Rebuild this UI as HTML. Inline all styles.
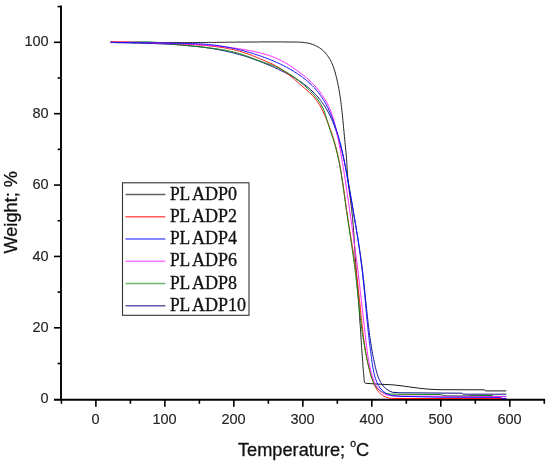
<!DOCTYPE html>
<html><head><meta charset="utf-8"><style>
html,body{margin:0;padding:0;background:#fff;}
svg{display:block;}
</style></head><body>
<svg width="550" height="464" viewBox="0 0 550 464">
<line x1="61" y1="5.4" x2="61" y2="400.6" stroke="#000" stroke-width="1.9"/>
<line x1="54" y1="399.7" x2="545.1" y2="399.7" stroke="#000" stroke-width="1.9"/>
<line x1="57.6" y1="363.51" x2="61" y2="363.51" stroke="#000" stroke-width="1.6"/>
<line x1="54" y1="327.82" x2="61" y2="327.82" stroke="#000" stroke-width="1.6"/>
<line x1="57.6" y1="292.13" x2="61" y2="292.13" stroke="#000" stroke-width="1.6"/>
<line x1="54" y1="256.44" x2="61" y2="256.44" stroke="#000" stroke-width="1.6"/>
<line x1="57.6" y1="220.75" x2="61" y2="220.75" stroke="#000" stroke-width="1.6"/>
<line x1="54" y1="185.06" x2="61" y2="185.06" stroke="#000" stroke-width="1.6"/>
<line x1="57.6" y1="149.37" x2="61" y2="149.37" stroke="#000" stroke-width="1.6"/>
<line x1="54" y1="113.68" x2="61" y2="113.68" stroke="#000" stroke-width="1.6"/>
<line x1="57.6" y1="77.99" x2="61" y2="77.99" stroke="#000" stroke-width="1.6"/>
<line x1="54" y1="42.30" x2="61" y2="42.30" stroke="#000" stroke-width="1.6"/>
<line x1="57.6" y1="6.61" x2="61" y2="6.61" stroke="#000" stroke-width="1.6"/>
<line x1="61.41" y1="399.7" x2="61.41" y2="403.8" stroke="#000" stroke-width="1.6"/>
<line x1="95.90" y1="399.7" x2="95.90" y2="406.8" stroke="#000" stroke-width="1.6"/>
<line x1="130.39" y1="399.7" x2="130.39" y2="403.8" stroke="#000" stroke-width="1.6"/>
<line x1="164.88" y1="399.7" x2="164.88" y2="406.8" stroke="#000" stroke-width="1.6"/>
<line x1="199.37" y1="399.7" x2="199.37" y2="403.8" stroke="#000" stroke-width="1.6"/>
<line x1="233.86" y1="399.7" x2="233.86" y2="406.8" stroke="#000" stroke-width="1.6"/>
<line x1="268.35" y1="399.7" x2="268.35" y2="403.8" stroke="#000" stroke-width="1.6"/>
<line x1="302.84" y1="399.7" x2="302.84" y2="406.8" stroke="#000" stroke-width="1.6"/>
<line x1="337.33" y1="399.7" x2="337.33" y2="403.8" stroke="#000" stroke-width="1.6"/>
<line x1="371.82" y1="399.7" x2="371.82" y2="406.8" stroke="#000" stroke-width="1.6"/>
<line x1="406.31" y1="399.7" x2="406.31" y2="403.8" stroke="#000" stroke-width="1.6"/>
<line x1="440.80" y1="399.7" x2="440.80" y2="406.8" stroke="#000" stroke-width="1.6"/>
<line x1="475.29" y1="399.7" x2="475.29" y2="403.8" stroke="#000" stroke-width="1.6"/>
<line x1="509.78" y1="399.7" x2="509.78" y2="406.8" stroke="#000" stroke-width="1.6"/>
<line x1="544.27" y1="399.7" x2="544.27" y2="403.8" stroke="#000" stroke-width="1.6"/>
<text x="48.6" y="403.40" text-anchor="end" font-family="&quot;Liberation Sans&quot;, Arial, sans-serif" font-size="14.5" fill="#222" stroke="#222" stroke-width="0.12">0</text>
<text x="48.6" y="332.02" text-anchor="end" font-family="&quot;Liberation Sans&quot;, Arial, sans-serif" font-size="14.5" fill="#222" stroke="#222" stroke-width="0.12">20</text>
<text x="48.6" y="260.64" text-anchor="end" font-family="&quot;Liberation Sans&quot;, Arial, sans-serif" font-size="14.5" fill="#222" stroke="#222" stroke-width="0.12">40</text>
<text x="48.6" y="189.26" text-anchor="end" font-family="&quot;Liberation Sans&quot;, Arial, sans-serif" font-size="14.5" fill="#222" stroke="#222" stroke-width="0.12">60</text>
<text x="48.6" y="117.88" text-anchor="end" font-family="&quot;Liberation Sans&quot;, Arial, sans-serif" font-size="14.5" fill="#222" stroke="#222" stroke-width="0.12">80</text>
<text x="48.6" y="45.80" text-anchor="end" font-family="&quot;Liberation Sans&quot;, Arial, sans-serif" font-size="14.5" fill="#222" stroke="#222" stroke-width="0.12">100</text>
<text x="95.60" y="423.55" text-anchor="middle" font-family="&quot;Liberation Sans&quot;, Arial, sans-serif" font-size="14.5" fill="#222" stroke="#222" stroke-width="0.12">0</text>
<text x="164.58" y="423.55" text-anchor="middle" font-family="&quot;Liberation Sans&quot;, Arial, sans-serif" font-size="14.5" fill="#222" stroke="#222" stroke-width="0.12">100</text>
<text x="233.56" y="423.55" text-anchor="middle" font-family="&quot;Liberation Sans&quot;, Arial, sans-serif" font-size="14.5" fill="#222" stroke="#222" stroke-width="0.12">200</text>
<text x="302.54" y="423.55" text-anchor="middle" font-family="&quot;Liberation Sans&quot;, Arial, sans-serif" font-size="14.5" fill="#222" stroke="#222" stroke-width="0.12">300</text>
<text x="371.52" y="423.55" text-anchor="middle" font-family="&quot;Liberation Sans&quot;, Arial, sans-serif" font-size="14.5" fill="#222" stroke="#222" stroke-width="0.12">400</text>
<text x="440.50" y="423.55" text-anchor="middle" font-family="&quot;Liberation Sans&quot;, Arial, sans-serif" font-size="14.5" fill="#222" stroke="#222" stroke-width="0.12">500</text>
<text x="509.48" y="423.55" text-anchor="middle" font-family="&quot;Liberation Sans&quot;, Arial, sans-serif" font-size="14.5" fill="#222" stroke="#222" stroke-width="0.12">600</text>
<text x="238" y="455.5" font-family="&quot;Liberation Sans&quot;, Arial, sans-serif" font-size="18.2" fill="#111" stroke="#111" stroke-width="0.3">Temperature; <tspan font-size="10.5" dy="-8.6">o</tspan><tspan dy="8.6">C</tspan></text>
<text transform="translate(17,253.6) rotate(-90)" font-family="&quot;Liberation Sans&quot;, Arial, sans-serif" font-size="18.2" fill="#111" stroke="#111" stroke-width="0.3">Weight; %</text>
<path d="M110.6,42.4 112.2,42.4 113.8,42.4 115.4,42.4 117.0,42.4 118.6,42.4 120.2,42.4 121.8,42.4 123.4,42.4 125.0,42.4 126.6,42.4 128.2,42.4 129.8,42.4 131.5,42.4 133.1,42.4 134.7,42.4 136.3,42.4 137.9,42.4 139.5,42.5 141.1,42.5 142.7,42.5 144.3,42.5 145.9,42.5 147.5,42.5 149.1,42.5 150.7,42.5 152.3,42.5 153.9,42.5 155.5,42.5 157.1,42.5 158.7,42.6 160.3,42.6 161.9,42.6 163.5,42.6 165.1,42.6 166.7,42.6 168.3,42.6 169.9,42.6 171.5,42.6 173.1,42.6 174.7,42.6 176.3,42.6 177.9,42.6 179.5,42.6 181.1,42.6 182.7,42.6 184.3,42.6 185.9,42.6 187.6,42.6 189.2,42.6 190.8,42.6 192.4,42.6 194.0,42.6 195.6,42.5 197.2,42.5 198.8,42.5 200.4,42.5 202.0,42.5 203.6,42.5 205.2,42.5 206.8,42.5 208.4,42.4 210.0,42.4 211.6,42.4 213.2,42.4 214.8,42.4 216.4,42.4 218.0,42.3 219.6,42.3 221.2,42.3 222.8,42.3 224.4,42.3 226.0,42.2 227.6,42.2 229.3,42.2 230.9,42.2 232.5,42.2 234.1,42.2 235.7,42.1 237.3,42.1 238.9,42.1 240.5,42.1 242.1,42.1 243.7,42.1 245.3,42.0 246.9,42.0 248.5,42.0 250.1,42.0 251.7,42.0 253.3,42.0 254.9,42.0 256.5,42.0 258.1,42.0 259.7,41.9 261.3,41.9 262.9,41.9 264.5,41.9 266.1,41.9 267.7,41.9 269.3,41.9 270.9,41.9 272.5,41.9 274.1,41.9 275.7,41.9 277.3,41.9 278.9,41.9 280.5,41.9 282.1,41.9 283.7,41.9 285.3,42.0 286.9,42.0 288.5,42.0 290.2,42.0 291.8,42.0 293.4,42.0 295.0,42.0 296.6,42.0 298.2,42.1 299.9,42.2 301.5,42.2 303.1,42.4 304.7,42.6 306.2,42.8 307.8,43.1 309.3,43.4 310.9,43.8 312.4,44.3 313.9,44.9 315.3,45.5 316.7,46.2 318.1,47.0 319.5,47.8 320.8,48.7 322.0,49.7 323.2,50.7 324.3,51.8 325.4,53.0 326.4,54.2 327.4,55.5 328.3,56.8 329.2,58.1 330.0,59.5 330.8,60.9 331.5,62.4 332.2,63.9 332.8,65.3 333.4,66.8 333.9,68.4 334.4,69.9 334.9,71.4 335.3,73.0 335.7,74.5 336.1,76.1 336.5,77.7 336.9,79.2 337.2,80.8 337.6,82.4 337.9,83.9 338.2,85.5 338.5,87.1 338.8,88.6 339.1,90.2 339.4,91.8 339.6,93.4 339.9,95.0 340.1,96.5 340.4,98.1 340.6,99.7 340.8,101.3 341.0,102.9 341.2,104.5 341.4,106.1 341.6,107.6 341.8,109.2 341.9,110.8 342.1,112.4 342.3,114.0 342.4,115.6 342.6,117.2 342.8,118.8 342.9,120.4 343.1,122.0 343.2,123.6 343.4,125.2 343.5,126.8 343.7,128.4 343.8,130.0 344.0,131.6 344.1,133.2 344.3,134.8 344.4,136.4 344.6,138.0 344.7,139.6 344.9,141.2 345.0,142.8 345.2,144.3 345.3,145.9 345.5,147.5 345.7,149.1 345.8,150.7 346.0,152.3 346.1,153.9 346.3,155.5 346.4,157.1 346.5,158.7 346.6,160.3 346.7,161.9 346.8,163.5 346.9,165.1 347.0,166.7 347.1,168.3 347.2,169.9 347.3,171.5 347.4,173.1 347.5,174.7 347.6,176.3 347.8,177.9 347.9,179.5 348.1,181.1 348.3,182.7 348.4,184.3 348.6,185.9 348.8,187.5 349.0,189.1 349.2,190.6 349.4,192.2 349.6,193.8 349.8,195.4 350.1,197.0 350.3,198.6 350.5,200.2 350.7,201.8 350.9,203.4 351.1,205.0 351.3,206.5 351.5,208.1 351.7,209.7 351.9,211.3 352.0,212.9 352.2,214.5 352.4,216.1 352.5,217.7 352.7,219.3 352.8,220.9 352.9,222.5 353.1,224.1 353.2,225.7 353.3,227.3 353.4,228.9 353.5,230.5 353.7,232.1 353.8,233.7 353.9,235.3 354.0,236.9 354.1,238.5 354.2,240.1 354.3,241.7 354.4,243.3 354.5,244.9 354.6,246.5 354.7,248.1 354.8,249.7 354.9,251.3 355.0,252.9 355.1,254.5 355.2,256.1 355.3,257.7 355.5,259.3 355.6,260.9 355.7,262.5 355.8,264.1 355.9,265.7 356.0,267.3 356.1,268.9 356.3,270.5 356.4,272.1 356.5,273.7 356.6,275.3 356.7,276.9 356.8,278.5 357.0,280.1 357.1,281.7 357.2,283.3 357.3,284.9 357.4,286.5 357.6,288.1 357.7,289.7 357.8,291.3 357.9,292.9 358.0,294.5 358.1,296.1 358.3,297.6 358.4,299.2 358.5,300.8 358.6,302.4 358.7,304.0 358.8,305.6 359.0,307.2 359.1,308.8 359.2,310.4 359.3,312.0 359.4,313.6 359.5,315.2 359.6,316.8 359.7,318.4 359.8,320.0 359.9,321.6 360.0,323.2 360.2,324.8 360.3,326.4 360.4,328.0 360.5,329.6 360.6,331.2 360.7,332.8 360.8,334.4 360.9,336.0 361.0,337.6 361.1,339.2 361.2,340.8 361.3,342.4 361.4,344.0 361.5,345.6 361.6,347.2 361.7,348.8 361.8,350.4 362.0,352.0 362.1,353.6 362.2,355.2 362.3,356.8 362.4,358.4 362.5,360.0 362.7,361.6 362.8,363.2 362.9,364.8 363.0,366.4 363.1,368.0 363.3,369.6 363.4,371.2 363.5,372.8 363.7,374.4 363.8,376.0 364.0,377.6 364.1,379.2 364.2,380.8 364.4,382.4 365.6,383.3 370.0,383.6 380.0,384.2 392.0,384.8 400.0,385.6 410.0,387.0 420.0,388.3 430.0,389.3 440.0,389.7 484.5,389.8 485.5,390.9 506.3,390.9" fill="none" stroke="#1e1e1e" stroke-width="1.0" stroke-linejoin="round"/>
<path d="M110.6,42.4 112.2,42.4 113.8,42.5 115.4,42.5 117.0,42.6 118.6,42.6 120.2,42.7 121.8,42.7 123.4,42.8 125.0,42.8 126.6,42.9 128.2,42.9 129.8,42.9 131.4,43.0 133.0,43.0 134.6,43.1 136.2,43.1 137.8,43.1 139.4,43.2 141.0,43.2 142.6,43.3 144.2,43.3 145.9,43.3 147.5,43.4 149.1,43.4 150.7,43.5 152.3,43.5 153.9,43.6 155.5,43.7 157.1,43.7 158.7,43.8 160.3,43.8 161.9,43.9 163.5,44.0 165.2,44.1 166.8,44.1 168.4,44.2 170.0,44.3 171.6,44.4 173.2,44.5 174.8,44.6 176.4,44.7 178.0,44.8 179.6,44.9 181.2,45.0 182.8,45.2 184.4,45.3 186.0,45.4 187.6,45.6 189.2,45.7 190.8,45.9 192.4,46.0 194.0,46.2 195.6,46.4 197.2,46.5 198.8,46.7 200.4,46.9 201.9,47.1 203.5,47.3 205.1,47.5 206.7,47.8 208.3,48.0 209.9,48.2 211.4,48.5 213.0,48.7 214.6,49.0 216.2,49.3 217.7,49.6 219.3,49.8 220.9,50.2 222.4,50.5 224.0,50.8 225.6,51.1 227.1,51.5 228.7,51.8 230.3,52.2 231.8,52.5 233.4,52.9 234.9,53.3 236.5,53.7 238.0,54.1 239.5,54.6 241.1,55.0 242.6,55.5 244.2,55.9 245.7,56.4 247.2,56.9 248.7,57.4 250.3,57.9 251.8,58.4 253.3,59.0 254.8,59.5 256.3,60.1 257.8,60.6 259.4,61.2 260.9,61.8 262.4,62.4 263.8,63.0 265.3,63.6 266.8,64.2 268.3,64.8 269.8,65.5 271.3,66.1 272.7,66.8 274.2,67.4 275.6,68.1 277.1,68.7 278.6,69.4 280.0,70.1 281.4,70.8 282.9,71.5 284.3,72.2 285.7,72.9 287.1,73.6 288.5,74.4 289.9,75.1 291.3,75.9 292.7,76.7 294.1,77.5 295.4,78.3 296.8,79.1 298.1,80.0 299.4,80.9 300.7,81.8 302.0,82.7 303.3,83.6 304.6,84.6 305.9,85.6 307.1,86.6 308.4,87.7 309.6,88.7 310.8,89.8 312.0,90.9 313.1,92.1 314.3,93.2 315.4,94.4 316.5,95.6 317.6,96.8 318.6,98.0 319.7,99.2 320.7,100.5 321.6,101.8 322.6,103.1 323.5,104.4 324.4,105.7 325.3,107.1 326.1,108.4 326.9,109.8 327.7,111.2 328.5,112.6 329.2,114.0 329.9,115.4 330.6,116.9 331.2,118.3 331.9,119.8 332.5,121.3 333.1,122.7 333.7,124.2 334.3,125.7 334.8,127.2 335.3,128.7 335.9,130.2 336.4,131.7 336.9,133.3 337.3,134.8 337.8,136.3 338.3,137.9 338.7,139.4 339.2,140.9 339.6,142.5 340.0,144.0 340.4,145.6 340.8,147.1 341.2,148.7 341.6,150.2 342.0,151.8 342.4,153.3 342.8,154.9 343.1,156.4 343.5,158.0 343.8,159.6 344.2,161.1 344.5,162.7 344.8,164.3 345.2,165.8 345.5,167.4 345.8,169.0 346.1,170.6 346.4,172.1 346.7,173.7 347.0,175.3 347.3,176.9 347.6,178.5 347.9,180.0 348.2,181.6 348.5,183.2 348.8,184.8 349.1,186.4 349.3,187.9 349.6,189.5 349.9,191.1 350.2,192.7 350.4,194.3 350.7,195.9 351.0,197.5 351.2,199.0 351.5,200.6 351.8,202.2 352.1,203.8 352.3,205.4 352.6,207.0 352.9,208.5 353.1,210.1 353.4,211.7 353.7,213.3 354.0,214.9 354.2,216.5 354.5,218.0 354.8,219.6 355.0,221.2 355.3,222.8 355.6,224.4 355.8,225.9 356.1,227.5 356.4,229.1 356.6,230.7 356.9,232.3 357.2,233.9 357.4,235.4 357.7,237.0 357.9,238.6 358.2,240.2 358.4,241.8 358.7,243.3 358.9,244.9 359.2,246.5 359.4,248.1 359.7,249.7 359.9,251.3 360.1,252.9 360.4,254.4 360.6,256.0 360.8,257.6 361.0,259.2 361.2,260.8 361.5,262.4 361.7,264.0 361.9,265.6 362.1,267.1 362.3,268.7 362.5,270.3 362.7,271.9 362.9,273.5 363.0,275.1 363.2,276.7 363.4,278.3 363.6,279.9 363.8,281.5 363.9,283.1 364.1,284.7 364.3,286.3 364.4,287.9 364.6,289.5 364.8,291.1 364.9,292.7 365.1,294.3 365.3,295.9 365.4,297.4 365.6,299.0 365.7,300.6 365.9,302.2 366.1,303.8 366.2,305.4 366.4,307.0 366.6,308.6 366.7,310.2 366.9,311.8 367.1,313.4 367.2,315.0 367.4,316.6 367.6,318.2 367.8,319.8 367.9,321.4 368.1,323.0 368.3,324.6 368.5,326.2 368.7,327.8 368.9,329.4 369.1,331.0 369.3,332.5 369.5,334.1 369.7,335.7 369.9,337.3 370.2,338.9 370.4,340.5 370.6,342.1 370.9,343.7 371.1,345.2 371.4,346.8 371.6,348.4 371.9,350.0 372.2,351.6 372.5,353.2 372.7,354.7 373.1,356.3 373.4,357.9 373.7,359.5 374.0,361.1 374.4,362.6 374.7,364.2 375.1,365.8 375.4,367.4 375.8,368.9 376.2,370.5 376.7,372.1 377.1,373.6 377.6,375.2 378.1,376.7 378.7,378.1 379.3,379.6 380.0,381.0 380.7,382.3 381.5,383.6 382.4,384.9 383.3,386.1 384.3,387.2 385.5,388.3 386.7,389.2 388.0,390.1 389.4,391.0 391.0,391.7 392.6,392.3 400.0,392.8 462.0,393.2 463.0,394.2 506.3,394.2" fill="none" stroke="#101088" stroke-width="1.0" stroke-linejoin="round"/>
<path d="M110.6,41.7 112.2,41.7 113.8,41.7 115.4,41.7 117.0,41.8 118.6,41.8 120.2,41.8 121.8,41.8 123.4,41.9 125.0,41.9 126.6,41.9 128.2,42.0 129.8,42.0 131.4,42.1 133.0,42.1 134.6,42.2 136.2,42.2 137.8,42.3 139.4,42.3 141.0,42.4 142.6,42.4 144.2,42.5 145.8,42.5 147.4,42.6 149.0,42.6 150.6,42.7 152.2,42.8 153.8,42.8 155.4,42.9 157.0,43.0 158.6,43.0 160.2,43.1 161.8,43.2 163.4,43.2 165.0,43.3 166.6,43.4 168.2,43.5 169.8,43.5 171.4,43.6 173.0,43.7 174.6,43.7 176.2,43.8 177.8,43.9 179.4,44.0 181.0,44.0 182.6,44.1 184.2,44.2 185.9,44.3 187.5,44.3 189.1,44.4 190.7,44.5 192.3,44.6 193.9,44.7 195.5,44.8 197.1,44.9 198.7,45.0 200.3,45.1 201.9,45.2 203.5,45.3 205.1,45.5 206.7,45.6 208.3,45.8 209.9,45.9 211.4,46.1 213.0,46.3 214.6,46.4 216.2,46.6 217.8,46.9 219.4,47.1 220.9,47.3 222.5,47.6 224.1,47.8 225.7,48.1 227.2,48.4 228.8,48.7 230.3,49.0 231.9,49.4 233.5,49.7 235.0,50.1 236.6,50.5 238.1,50.9 239.6,51.3 241.2,51.7 242.7,52.2 244.2,52.7 245.7,53.2 247.3,53.7 248.8,54.3 250.3,54.8 251.8,55.4 253.3,56.0 254.8,56.6 256.3,57.2 257.8,57.8 259.3,58.4 260.7,59.1 262.2,59.7 263.7,60.3 265.2,60.9 266.7,61.6 268.1,62.2 269.6,62.9 271.0,63.5 272.5,64.2 273.9,64.9 275.3,65.6 276.7,66.4 278.1,67.2 279.5,68.0 280.8,68.8 282.1,69.7 283.4,70.6 284.7,71.5 286.0,72.5 287.3,73.4 288.5,74.4 289.8,75.4 291.0,76.5 292.3,77.5 293.5,78.5 294.7,79.6 295.9,80.6 297.1,81.7 298.3,82.8 299.6,83.8 300.8,84.9 302.0,86.0 303.2,87.1 304.4,88.1 305.6,89.2 306.9,90.3 308.1,91.3 309.3,92.4 310.4,93.5 311.6,94.6 312.7,95.7 313.8,96.9 314.8,98.0 315.8,99.3 316.8,100.5 317.7,101.8 318.5,103.1 319.4,104.5 320.1,105.9 320.9,107.3 321.6,108.7 322.3,110.1 323.0,111.5 323.7,113.0 324.3,114.4 325.0,115.9 325.6,117.4 326.3,118.8 326.9,120.3 327.5,121.8 328.1,123.3 328.7,124.8 329.2,126.3 329.8,127.8 330.3,129.3 330.9,130.8 331.4,132.4 331.9,133.9 332.4,135.4 332.9,136.9 333.4,138.5 333.9,140.0 334.3,141.5 334.8,143.1 335.2,144.6 335.6,146.2 336.0,147.7 336.4,149.3 336.8,150.8 337.2,152.4 337.5,153.9 337.9,155.5 338.2,157.1 338.6,158.6 338.9,160.2 339.2,161.8 339.5,163.3 339.8,164.9 340.1,166.5 340.4,168.0 340.7,169.6 341.0,171.2 341.2,172.8 341.5,174.3 341.7,175.9 342.0,177.5 342.2,179.1 342.5,180.7 342.7,182.2 343.0,183.8 343.2,185.4 343.4,187.0 343.7,188.6 343.9,190.2 344.1,191.7 344.3,193.3 344.5,194.9 344.8,196.5 345.0,198.1 345.2,199.7 345.4,201.3 345.6,202.9 345.9,204.4 346.1,206.0 346.3,207.6 346.5,209.2 346.7,210.8 347.0,212.4 347.2,214.0 347.4,215.6 347.7,217.1 347.9,218.7 348.2,220.3 348.4,221.9 348.7,223.5 348.9,225.1 349.1,226.6 349.4,228.2 349.7,229.8 349.9,231.4 350.2,233.0 350.4,234.6 350.7,236.2 350.9,237.7 351.2,239.3 351.4,240.9 351.7,242.5 351.9,244.1 352.2,245.7 352.4,247.2 352.7,248.8 352.9,250.4 353.2,252.0 353.4,253.6 353.7,255.2 353.9,256.7 354.2,258.3 354.4,259.9 354.7,261.5 354.9,263.1 355.1,264.7 355.4,266.3 355.6,267.8 355.8,269.4 356.0,271.0 356.3,272.6 356.5,274.2 356.7,275.8 356.9,277.4 357.1,279.0 357.3,280.5 357.5,282.1 357.7,283.7 357.9,285.3 358.1,286.9 358.2,288.5 358.4,290.1 358.6,291.7 358.8,293.3 358.9,294.9 359.1,296.5 359.3,298.0 359.4,299.6 359.6,301.2 359.8,302.8 359.9,304.4 360.1,306.0 360.3,307.6 360.4,309.2 360.6,310.8 360.7,312.4 360.9,314.0 361.1,315.6 361.2,317.2 361.4,318.8 361.6,320.3 361.8,321.9 361.9,323.5 362.1,325.1 362.3,326.7 362.5,328.3 362.7,329.9 362.8,331.5 363.0,333.1 363.2,334.7 363.4,336.3 363.6,337.9 363.8,339.4 364.1,341.0 364.3,342.6 364.5,344.2 364.7,345.8 365.0,347.4 365.2,349.0 365.5,350.6 365.7,352.1 366.0,353.7 366.3,355.3 366.6,356.9 366.9,358.5 367.2,360.1 367.5,361.6 367.8,363.2 368.2,364.8 368.5,366.3 368.9,367.9 369.3,369.5 369.7,371.0 370.1,372.6 370.6,374.1 371.0,375.6 371.5,377.2 372.0,378.7 372.6,380.2 373.1,381.7 373.7,383.2 374.3,384.7 375.0,386.1 375.7,387.5 376.5,388.9 377.3,390.1 378.2,391.4 379.2,392.5 380.2,393.6 381.4,394.5 382.6,395.4 383.9,396.2 385.3,396.9 386.8,397.4 388.3,397.9 389.9,398.2 391.6,398.4 393.3,398.4 395.1,398.4 406.0,398.5 506.3,398.5" fill="none" stroke="#ff1010" stroke-width="1.0" stroke-linejoin="round"/>
<path d="M110.6,42.4 112.2,42.5 113.8,42.6 115.4,42.6 117.0,42.7 118.6,42.7 120.2,42.7 121.8,42.6 123.4,42.6 125.0,42.5 126.6,42.5 128.2,42.4 129.8,42.3 131.5,42.3 133.1,42.2 134.7,42.1 136.3,42.0 137.9,42.0 139.5,41.9 141.1,41.9 142.7,41.8 144.3,41.8 145.9,41.8 147.5,41.9 149.1,41.9 150.7,42.0 152.3,42.1 153.8,42.2 155.4,42.3 157.0,42.4 158.6,42.5 160.2,42.7 161.8,42.8 163.3,43.0 164.9,43.2 166.5,43.4 168.1,43.5 169.7,43.7 171.2,43.9 172.8,44.1 174.4,44.3 176.0,44.5 177.6,44.6 179.2,44.8 180.8,45.0 182.4,45.1 183.9,45.3 185.5,45.5 187.1,45.6 188.7,45.8 190.3,45.9 191.9,46.1 193.5,46.2 195.1,46.4 196.7,46.5 198.3,46.7 199.9,46.8 201.5,47.0 203.1,47.1 204.7,47.3 206.3,47.5 207.9,47.7 209.5,47.9 211.1,48.1 212.7,48.3 214.3,48.5 215.9,48.7 217.5,48.9 219.1,49.2 220.6,49.4 222.2,49.7 223.8,50.0 225.4,50.2 226.9,50.6 228.5,50.9 230.1,51.2 231.6,51.6 233.2,51.9 234.7,52.3 236.3,52.7 237.8,53.1 239.3,53.6 240.9,54.0 242.4,54.5 243.9,55.0 245.4,55.5 246.9,56.1 248.4,56.6 249.9,57.2 251.4,57.8 252.9,58.4 254.4,58.9 255.9,59.5 257.4,60.1 258.9,60.7 260.5,61.2 262.0,61.8 263.5,62.3 265.0,62.8 266.5,63.3 268.1,63.8 269.6,64.4 271.1,64.9 272.6,65.4 274.1,66.0 275.6,66.6 277.0,67.2 278.5,67.9 279.9,68.6 281.3,69.3 282.8,70.0 284.1,70.8 285.5,71.6 286.9,72.4 288.2,73.2 289.6,74.1 290.9,75.0 292.2,75.9 293.5,76.8 294.8,77.8 296.1,78.7 297.4,79.7 298.6,80.7 299.9,81.7 301.1,82.8 302.3,83.8 303.6,84.9 304.8,85.9 306.0,87.0 307.2,88.1 308.4,89.2 309.5,90.3 310.7,91.5 311.8,92.6 312.9,93.8 314.0,95.0 315.0,96.2 316.0,97.4 317.0,98.6 318.0,99.9 318.9,101.2 319.8,102.5 320.6,103.8 321.4,105.2 322.1,106.6 322.8,108.0 323.5,109.4 324.1,110.9 324.6,112.4 325.1,113.9 325.6,115.5 326.1,117.0 326.6,118.6 327.0,120.1 327.5,121.7 327.9,123.2 328.4,124.8 328.9,126.3 329.4,127.9 329.9,129.4 330.4,130.9 330.9,132.4 331.4,134.0 332.0,135.5 332.5,137.0 333.0,138.5 333.5,140.0 333.9,141.5 334.4,143.1 334.8,144.6 335.3,146.1 335.7,147.7 336.1,149.2 336.5,150.8 336.9,152.3 337.3,153.9 337.6,155.4 338.0,157.0 338.3,158.5 338.6,160.1 339.0,161.6 339.3,163.2 339.6,164.8 339.9,166.4 340.2,167.9 340.4,169.5 340.7,171.1 341.0,172.7 341.3,174.2 341.5,175.8 341.8,177.4 342.0,179.0 342.2,180.6 342.5,182.2 342.7,183.7 342.9,185.3 343.2,186.9 343.4,188.5 343.6,190.1 343.8,191.7 344.1,193.3 344.3,194.9 344.5,196.5 344.7,198.1 344.9,199.6 345.1,201.2 345.4,202.8 345.6,204.4 345.8,206.0 346.0,207.6 346.2,209.2 346.5,210.8 346.7,212.4 346.9,214.0 347.2,215.5 347.4,217.1 347.6,218.7 347.9,220.3 348.1,221.9 348.3,223.5 348.6,225.1 348.8,226.6 349.1,228.2 349.3,229.8 349.5,231.4 349.8,233.0 350.0,234.6 350.2,236.2 350.5,237.7 350.7,239.3 351.0,240.9 351.2,242.5 351.4,244.1 351.7,245.7 351.9,247.3 352.1,248.8 352.4,250.4 352.6,252.0 352.8,253.6 353.1,255.2 353.3,256.8 353.5,258.4 353.7,259.9 353.9,261.5 354.2,263.1 354.4,264.7 354.6,266.3 354.8,267.9 355.0,269.5 355.2,271.1 355.4,272.6 355.6,274.2 355.8,275.8 356.0,277.4 356.1,279.0 356.3,280.6 356.5,282.2 356.7,283.8 356.8,285.4 357.0,287.0 357.2,288.6 357.4,290.2 357.5,291.8 357.7,293.3 357.9,294.9 358.0,296.5 358.2,298.1 358.4,299.7 358.5,301.3 358.7,302.9 358.9,304.5 359.0,306.1 359.2,307.7 359.4,309.3 359.6,310.9 359.7,312.5 359.9,314.1 360.1,315.7 360.3,317.3 360.5,318.8 360.7,320.4 360.9,322.0 361.1,323.6 361.3,325.2 361.5,326.8 361.7,328.4 361.9,330.0 362.1,331.6 362.3,333.1 362.6,334.7 362.8,336.3 363.1,337.9 363.3,339.5 363.6,341.1 363.8,342.6 364.1,344.2 364.4,345.8 364.7,347.4 364.9,349.0 365.2,350.5 365.5,352.1 365.9,353.7 366.2,355.2 366.5,356.8 366.8,358.4 367.2,359.9 367.5,361.5 367.9,363.1 368.3,364.6 368.6,366.2 369.0,367.8 369.4,369.3 369.8,370.9 370.2,372.4 370.7,374.0 371.1,375.5 371.5,377.1 372.0,378.6 372.5,380.1 373.1,381.6 373.7,383.0 374.4,384.4 375.2,385.7 376.0,387.0 377.0,388.1 378.1,389.2 379.3,390.2 380.6,391.2 382.0,391.9 383.5,392.6 385.0,393.2 386.6,393.6 388.3,393.9 390.0,394.0 400.0,394.3 440.0,394.5 446.0,395.8 468.0,395.9 471.0,395.5 492.0,395.5 493.5,396.4 506.3,396.4" fill="none" stroke="#108a10" stroke-width="1.0" stroke-linejoin="round"/>
<path d="M110.6,42.4 112.2,42.4 113.8,42.4 115.4,42.3 117.0,42.3 118.6,42.3 120.2,42.3 121.8,42.3 123.4,42.3 125.0,42.3 126.6,42.3 128.2,42.3 129.8,42.3 131.4,42.3 133.0,42.4 134.6,42.4 136.2,42.4 137.9,42.4 139.5,42.4 141.1,42.5 142.7,42.5 144.3,42.5 145.9,42.6 147.5,42.6 149.1,42.6 150.7,42.7 152.3,42.7 153.9,42.8 155.5,42.8 157.1,42.9 158.7,42.9 160.3,43.0 161.9,43.0 163.5,43.1 165.1,43.1 166.7,43.2 168.3,43.2 169.9,43.3 171.5,43.4 173.1,43.4 174.7,43.5 176.3,43.6 177.9,43.6 179.5,43.7 181.1,43.8 182.7,43.9 184.3,43.9 185.9,44.0 187.5,44.1 189.1,44.2 190.7,44.3 192.3,44.3 193.9,44.4 195.5,44.5 197.1,44.6 198.7,44.7 200.3,44.8 201.9,44.9 203.5,45.0 205.1,45.1 206.7,45.2 208.3,45.4 209.9,45.5 211.5,45.6 213.1,45.7 214.7,45.9 216.3,46.0 217.9,46.2 219.5,46.3 221.1,46.5 222.7,46.6 224.2,46.8 225.8,47.0 227.4,47.2 229.0,47.4 230.6,47.6 232.2,47.8 233.8,48.0 235.4,48.2 237.0,48.5 238.5,48.7 240.1,48.9 241.7,49.2 243.3,49.5 244.9,49.7 246.5,50.0 248.0,50.3 249.6,50.6 251.2,50.9 252.8,51.2 254.3,51.6 255.9,51.9 257.5,52.3 259.0,52.7 260.6,53.0 262.1,53.5 263.7,53.9 265.2,54.3 266.8,54.8 268.3,55.3 269.8,55.8 271.3,56.3 272.8,56.9 274.3,57.5 275.7,58.1 277.2,58.7 278.6,59.4 280.1,60.0 281.5,60.8 282.9,61.5 284.3,62.3 285.7,63.1 287.1,63.9 288.4,64.7 289.8,65.6 291.1,66.5 292.5,67.3 293.8,68.2 295.1,69.2 296.4,70.1 297.7,71.0 299.0,72.0 300.3,72.9 301.6,73.9 302.9,74.9 304.1,75.9 305.4,76.9 306.6,77.9 307.8,79.0 309.0,80.1 310.2,81.2 311.3,82.3 312.5,83.4 313.6,84.5 314.7,85.7 315.8,86.9 316.8,88.1 317.9,89.3 318.9,90.6 319.8,91.8 320.8,93.1 321.7,94.4 322.6,95.7 323.5,97.0 324.4,98.4 325.2,99.7 326.0,101.1 326.8,102.5 327.5,103.9 328.2,105.3 328.9,106.7 329.5,108.2 330.1,109.6 330.7,111.1 331.3,112.6 331.8,114.1 332.3,115.6 332.8,117.1 333.3,118.7 333.8,120.2 334.2,121.7 334.6,123.3 335.0,124.8 335.4,126.4 335.8,128.0 336.1,129.5 336.5,131.1 336.8,132.7 337.2,134.3 337.5,135.9 337.8,137.4 338.2,139.0 338.5,140.6 338.8,142.2 339.1,143.8 339.4,145.3 339.7,146.9 340.0,148.5 340.3,150.1 340.6,151.7 340.8,153.3 341.1,154.8 341.4,156.4 341.7,158.0 341.9,159.6 342.2,161.2 342.5,162.7 342.7,164.3 343.0,165.9 343.3,167.5 343.5,169.1 343.8,170.6 344.0,172.2 344.3,173.8 344.5,175.4 344.8,177.0 345.0,178.5 345.3,180.1 345.5,181.7 345.7,183.3 346.0,184.9 346.2,186.4 346.4,188.0 346.7,189.6 346.9,191.2 347.1,192.8 347.4,194.4 347.6,195.9 347.8,197.5 348.1,199.1 348.3,200.7 348.5,202.3 348.7,203.9 349.0,205.4 349.2,207.0 349.4,208.6 349.6,210.2 349.9,211.8 350.1,213.4 350.3,215.0 350.5,216.5 350.8,218.1 351.0,219.7 351.2,221.3 351.4,222.9 351.7,224.5 351.9,226.1 352.1,227.7 352.3,229.2 352.6,230.8 352.8,232.4 353.0,234.0 353.2,235.6 353.5,237.2 353.7,238.8 353.9,240.4 354.1,242.0 354.3,243.5 354.5,245.1 354.8,246.7 355.0,248.3 355.2,249.9 355.4,251.5 355.6,253.1 355.8,254.7 356.0,256.3 356.2,257.9 356.4,259.4 356.7,261.0 356.9,262.6 357.1,264.2 357.3,265.8 357.5,267.4 357.7,269.0 357.9,270.6 358.1,272.2 358.3,273.8 358.5,275.4 358.6,277.0 358.8,278.5 359.0,280.1 359.2,281.7 359.4,283.3 359.6,284.9 359.8,286.5 360.0,288.1 360.1,289.7 360.3,291.3 360.5,292.9 360.7,294.5 360.9,296.0 361.1,297.6 361.2,299.2 361.4,300.8 361.6,302.4 361.8,304.0 361.9,305.6 362.1,307.2 362.3,308.8 362.5,310.4 362.7,312.0 362.8,313.5 363.0,315.1 363.2,316.7 363.4,318.3 363.5,319.9 363.7,321.5 363.9,323.1 364.1,324.7 364.3,326.3 364.4,327.9 364.6,329.5 364.8,331.1 365.0,332.7 365.2,334.2 365.4,335.8 365.5,337.4 365.7,339.0 365.9,340.6 366.1,342.2 366.3,343.8 366.5,345.4 366.7,347.0 366.9,348.6 367.1,350.2 367.3,351.8 367.5,353.4 367.7,354.9 368.0,356.5 368.2,358.1 368.5,359.7 368.8,361.3 369.1,362.9 369.4,364.4 369.7,366.0 370.0,367.6 370.4,369.2 370.7,370.7 371.1,372.3 371.6,373.8 372.0,375.4 372.5,376.9 373.0,378.5 373.5,380.0 374.1,381.5 374.7,382.9 375.4,384.3 376.1,385.7 376.9,387.0 377.8,388.2 378.8,389.4 379.8,390.5 380.9,391.5 382.1,392.5 383.4,393.3 384.7,394.0 386.2,394.7 387.8,395.1 389.4,395.5 391.2,395.7 393.0,395.8 400.0,396.1 440.0,396.2 506.3,396.6" fill="none" stroke="#ff20ff" stroke-width="1.0" stroke-linejoin="round"/>
<path d="M110.6,42.4 112.2,42.4 113.8,42.4 115.4,42.4 117.0,42.5 118.6,42.5 120.2,42.5 121.8,42.5 123.4,42.5 125.0,42.5 126.6,42.5 128.2,42.6 129.8,42.6 131.4,42.6 133.0,42.6 134.7,42.6 136.3,42.7 137.9,42.7 139.5,42.7 141.1,42.7 142.7,42.7 144.3,42.8 145.9,42.8 147.5,42.8 149.1,42.8 150.7,42.8 152.3,42.9 153.9,42.9 155.5,42.9 157.1,42.9 158.7,43.0 160.3,43.0 161.9,43.0 163.5,43.0 165.1,43.1 166.7,43.1 168.3,43.1 169.9,43.1 171.5,43.2 173.1,43.2 174.7,43.2 176.3,43.3 177.9,43.3 179.5,43.3 181.1,43.3 182.7,43.4 184.4,43.4 186.0,43.4 187.6,43.5 189.2,43.5 190.8,43.6 192.4,43.6 194.0,43.7 195.6,43.7 197.2,43.8 198.8,43.9 200.4,43.9 202.0,44.0 203.6,44.1 205.2,44.2 206.8,44.4 208.4,44.5 210.0,44.7 211.6,44.8 213.1,45.0 214.7,45.2 216.3,45.4 217.9,45.6 219.5,45.8 221.1,46.1 222.7,46.3 224.3,46.6 225.8,46.9 227.4,47.2 229.0,47.5 230.6,47.8 232.1,48.1 233.7,48.5 235.3,48.8 236.8,49.2 238.4,49.5 239.9,49.9 241.5,50.3 243.0,50.7 244.6,51.1 246.1,51.6 247.7,52.0 249.2,52.4 250.8,52.9 252.3,53.3 253.8,53.8 255.3,54.3 256.9,54.8 258.4,55.3 259.9,55.8 261.4,56.3 262.9,56.9 264.4,57.4 265.9,58.0 267.4,58.5 268.9,59.1 270.4,59.7 271.8,60.3 273.3,60.9 274.8,61.6 276.3,62.2 277.7,62.9 279.2,63.6 280.6,64.2 282.1,65.0 283.5,65.7 285.0,66.4 286.4,67.1 287.8,67.9 289.2,68.7 290.6,69.5 292.0,70.3 293.4,71.1 294.7,72.0 296.1,72.8 297.4,73.7 298.8,74.6 300.1,75.5 301.4,76.4 302.7,77.4 303.9,78.4 305.2,79.3 306.4,80.3 307.6,81.4 308.8,82.4 310.0,83.5 311.2,84.6 312.3,85.7 313.4,86.8 314.5,87.9 315.6,89.1 316.6,90.3 317.6,91.5 318.6,92.7 319.5,94.0 320.4,95.3 321.3,96.6 322.2,97.9 323.1,99.2 323.9,100.6 324.7,101.9 325.5,103.3 326.2,104.7 326.9,106.1 327.7,107.5 328.4,109.0 329.0,110.4 329.7,111.9 330.3,113.3 331.0,114.8 331.6,116.3 332.2,117.8 332.8,119.3 333.3,120.8 333.9,122.3 334.4,123.8 334.9,125.4 335.4,126.9 335.9,128.4 336.4,130.0 336.9,131.5 337.4,133.0 337.9,134.6 338.3,136.1 338.8,137.7 339.2,139.2 339.6,140.8 340.0,142.3 340.5,143.9 340.9,145.4 341.3,147.0 341.6,148.5 342.0,150.1 342.4,151.6 342.7,153.2 343.1,154.7 343.4,156.3 343.7,157.9 344.0,159.4 344.3,161.0 344.6,162.6 344.9,164.1 345.2,165.7 345.5,167.3 345.8,168.8 346.1,170.4 346.3,172.0 346.6,173.6 346.9,175.1 347.2,176.7 347.5,178.3 347.8,179.9 348.0,181.4 348.3,183.0 348.6,184.6 348.9,186.2 349.2,187.8 349.4,189.3 349.7,190.9 350.0,192.5 350.3,194.1 350.6,195.7 350.8,197.2 351.1,198.8 351.4,200.4 351.7,202.0 352.0,203.6 352.2,205.1 352.5,206.7 352.8,208.3 353.1,209.9 353.3,211.5 353.6,213.0 353.9,214.6 354.1,216.2 354.4,217.8 354.7,219.4 354.9,221.0 355.2,222.5 355.5,224.1 355.7,225.7 356.0,227.3 356.2,228.9 356.5,230.5 356.7,232.0 357.0,233.6 357.3,235.2 357.5,236.8 357.7,238.4 358.0,240.0 358.2,241.5 358.5,243.1 358.7,244.7 358.9,246.3 359.2,247.9 359.4,249.5 359.6,251.1 359.9,252.6 360.1,254.2 360.3,255.8 360.5,257.4 360.7,259.0 360.9,260.6 361.1,262.2 361.3,263.8 361.5,265.4 361.7,266.9 361.9,268.5 362.1,270.1 362.3,271.7 362.5,273.3 362.7,274.9 362.8,276.5 363.0,278.1 363.2,279.7 363.4,281.3 363.5,282.9 363.7,284.5 363.8,286.1 364.0,287.7 364.1,289.2 364.3,290.8 364.5,292.4 364.6,294.0 364.8,295.6 364.9,297.2 365.1,298.8 365.2,300.4 365.4,302.0 365.5,303.6 365.6,305.2 365.8,306.8 365.9,308.4 366.1,310.0 366.2,311.6 366.4,313.2 366.5,314.8 366.7,316.4 366.8,318.0 367.0,319.6 367.2,321.2 367.3,322.7 367.5,324.3 367.6,325.9 367.8,327.5 368.0,329.1 368.1,330.7 368.3,332.3 368.5,333.9 368.7,335.5 368.9,337.1 369.0,338.7 369.2,340.2 369.4,341.8 369.6,343.4 369.8,345.0 370.0,346.6 370.2,348.2 370.5,349.8 370.7,351.4 370.9,353.0 371.1,354.6 371.3,356.2 371.5,357.8 371.7,359.4 371.9,361.0 372.2,362.6 372.4,364.3 372.6,365.9 372.9,367.5 373.2,369.1 373.5,370.7 373.8,372.3 374.1,373.8 374.5,375.4 374.9,376.9 375.4,378.4 375.9,379.9 376.5,381.4 377.1,382.8 377.7,384.2 378.5,385.5 379.3,386.8 380.1,388.0 381.1,389.1 382.1,390.2 383.2,391.3 384.4,392.2 385.7,393.1 387.1,393.9 388.7,394.5 390.3,395.1 392.0,395.6 400.0,396.3 440.0,397.2 500.0,397.4 502.0,398.4 506.3,398.4" fill="none" stroke="#1010ff" stroke-width="1.0" stroke-linejoin="round"/>
<rect x="122.5" y="182.8" width="126.5" height="132.5" fill="#fff" stroke="#333" stroke-width="1.1"/>
<line x1="125.5" y1="194.50" x2="165.4" y2="194.50" stroke="#5f5f5f" stroke-width="1.3"/>
<text y="199.60" font-family="&quot;Liberation Serif&quot;, serif" font-size="18" fill="#111" stroke="#111" stroke-width="0.3"><tspan x="169.9" textLength="20.4" lengthAdjust="spacingAndGlyphs">PL</tspan><tspan x="192.1">ADP0</tspan></text>
<line x1="125.5" y1="216.75" x2="165.4" y2="216.75" stroke="#ff5a5a" stroke-width="1.3"/>
<text y="221.85" font-family="&quot;Liberation Serif&quot;, serif" font-size="18" fill="#111" stroke="#111" stroke-width="0.3"><tspan x="169.9" textLength="20.4" lengthAdjust="spacingAndGlyphs">PL</tspan><tspan x="192.1">ADP2</tspan></text>
<line x1="125.5" y1="239.00" x2="165.4" y2="239.00" stroke="#5f5fff" stroke-width="1.3"/>
<text y="244.10" font-family="&quot;Liberation Serif&quot;, serif" font-size="18" fill="#111" stroke="#111" stroke-width="0.3"><tspan x="169.9" textLength="20.4" lengthAdjust="spacingAndGlyphs">PL</tspan><tspan x="192.1">ADP4</tspan></text>
<line x1="125.5" y1="261.25" x2="165.4" y2="261.25" stroke="#ff78ff" stroke-width="1.3"/>
<text y="266.35" font-family="&quot;Liberation Serif&quot;, serif" font-size="18" fill="#111" stroke="#111" stroke-width="0.3"><tspan x="169.9" textLength="20.4" lengthAdjust="spacingAndGlyphs">PL</tspan><tspan x="192.1">ADP6</tspan></text>
<line x1="125.5" y1="283.50" x2="165.4" y2="283.50" stroke="#6eb46e" stroke-width="1.3"/>
<text y="288.60" font-family="&quot;Liberation Serif&quot;, serif" font-size="18" fill="#111" stroke="#111" stroke-width="0.3"><tspan x="169.9" textLength="20.4" lengthAdjust="spacingAndGlyphs">PL</tspan><tspan x="192.1">ADP8</tspan></text>
<line x1="125.5" y1="305.75" x2="165.4" y2="305.75" stroke="#645aaa" stroke-width="1.3"/>
<text y="310.85" font-family="&quot;Liberation Serif&quot;, serif" font-size="18" fill="#111" stroke="#111" stroke-width="0.3"><tspan x="169.9" textLength="20.4" lengthAdjust="spacingAndGlyphs">PL</tspan><tspan x="192.1">ADP10</tspan></text>
</svg>
</body></html>
